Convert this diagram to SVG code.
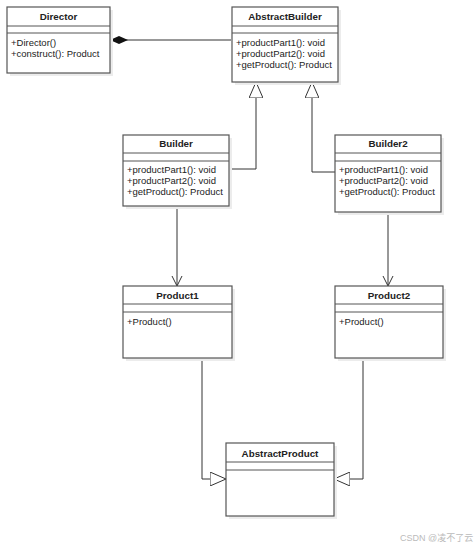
<svg xmlns="http://www.w3.org/2000/svg" width="474" height="546" viewBox="0 0 474 546">
<defs>
<style>
.box{fill:#fff;stroke:#555;stroke-width:1.2}
.sh{fill:#ececec}
.sep{stroke:#555;stroke-width:1}
.t{font-family:"Liberation Sans",Arial,sans-serif;font-size:9.8px;font-weight:bold;fill:#222;text-anchor:middle}
.m{font-family:"Liberation Sans",Arial,sans-serif;font-size:9.5px;fill:#222}
.ln{fill:none;stroke:#333;stroke-width:1}
.wm{font-family:"Liberation Sans","Noto Sans CJK SC",sans-serif;font-size:9px;fill:#bbb}
</style>
<marker id="tri" viewBox="0 0 16 14" refX="16" refY="7" markerWidth="16" markerHeight="14" markerUnits="userSpaceOnUse" orient="auto">
<path d="M0,0 L16,7 L0,14 Z" fill="#fff" stroke="#333" stroke-width="1"/>
</marker>
<marker id="open" viewBox="0 0 10 12" refX="10" refY="6" markerWidth="10" markerHeight="12" markerUnits="userSpaceOnUse" orient="auto">
<path d="M0,1 L10,6 L0,11" fill="none" stroke="#333" stroke-width="1"/>
</marker>
</defs>
<rect width="474" height="546" fill="#fff"/>
<g id="connectors">
<path class="ln" d="M231,40 L110,40"/>
<path d="M110,40 L119,36 L128,40 L119,44 Z" fill="#111"/>
<path class="ln" d="M229,169 L256,169 L256,82" marker-end="url(#tri)"/>
<path class="ln" d="M335,172 L312,172 L312,82" marker-end="url(#tri)"/>
<path class="ln" d="M177,206 L177,286" marker-end="url(#open)"/>
<path class="ln" d="M388,212 L388,286" marker-end="url(#open)"/>
<path class="ln" d="M202,358 L202,479 L226,479" marker-end="url(#tri)"/>
<path class="ln" d="M363,358 L363,479 L334,479" marker-end="url(#tri)"/>
</g>
<g id="Director">
<rect class="sh" x="10" y="10" width="103" height="66"/>
<rect class="box" x="7" y="7" width="103" height="66"/>
<line class="sep" x1="7" y1="26" x2="110" y2="26"/>
<line class="sep" x1="7" y1="33" x2="110" y2="33"/>
<text class="t" x="58.5" y="20">Director</text>
<text class="m" x="11" y="46">+Director()</text>
<text class="m" x="11" y="57">+construct(): Product</text>
</g>
<g id="AbstractBuilder">
<rect class="sh" x="235" y="10" width="106" height="75"/>
<rect class="box" x="232" y="7" width="106" height="75"/>
<line class="sep" x1="232" y1="26" x2="338" y2="26"/>
<line class="sep" x1="232" y1="33" x2="338" y2="33"/>
<text class="t" x="285" y="20">AbstractBuilder</text>
<text class="m" x="236" y="46">+productPart1(): void</text>
<text class="m" x="236" y="57">+productPart2(): void</text>
<text class="m" x="236" y="68">+getProduct(): Product</text>
</g>
<g id="Builder">
<rect class="sh" x="126" y="138" width="106" height="71"/>
<rect class="box" x="123" y="135" width="106" height="71"/>
<line class="sep" x1="123" y1="153" x2="229" y2="153"/>
<line class="sep" x1="123" y1="161" x2="229" y2="161"/>
<text class="t" x="176" y="147">Builder</text>
<text class="m" x="127" y="173">+productPart1(): void</text>
<text class="m" x="127" y="184">+productPart2(): void</text>
<text class="m" x="127" y="195">+getProduct(): Product</text>
</g>
<g id="Builder2">
<rect class="sh" x="338" y="138" width="106" height="77"/>
<rect class="box" x="335" y="135" width="106" height="77"/>
<line class="sep" x1="335" y1="153" x2="441" y2="153"/>
<line class="sep" x1="335" y1="161" x2="441" y2="161"/>
<text class="t" x="388" y="147">Builder2</text>
<text class="m" x="339" y="173">+productPart1(): void</text>
<text class="m" x="339" y="184">+productPart2(): void</text>
<text class="m" x="339" y="195">+getProduct(): Product</text>
</g>
<g id="Product1">
<rect class="sh" x="126" y="289" width="109" height="72"/>
<rect class="box" x="123" y="286" width="109" height="72"/>
<line class="sep" x1="123" y1="304" x2="232" y2="304"/>
<line class="sep" x1="123" y1="312" x2="232" y2="312"/>
<text class="t" x="177.5" y="299">Product1</text>
<text class="m" x="127" y="325">+Product()</text>
</g>
<g id="Product2">
<rect class="sh" x="338" y="289" width="108" height="72"/>
<rect class="box" x="335" y="286" width="108" height="72"/>
<line class="sep" x1="335" y1="304" x2="443" y2="304"/>
<line class="sep" x1="335" y1="312" x2="443" y2="312"/>
<text class="t" x="389" y="299">Product2</text>
<text class="m" x="339" y="325">+Product()</text>
</g>
<g id="AbstractProduct">
<rect class="sh" x="229" y="446" width="108" height="73"/>
<rect class="box" x="226" y="443" width="108" height="73"/>
<line class="sep" x1="226" y1="462" x2="334" y2="462"/>
<line class="sep" x1="226" y1="470" x2="334" y2="470"/>
<text class="t" x="280" y="457">AbstractProduct</text>
</g>
<text class="wm" x="400" y="541">CSDN @凌不了云</text>
</svg>
